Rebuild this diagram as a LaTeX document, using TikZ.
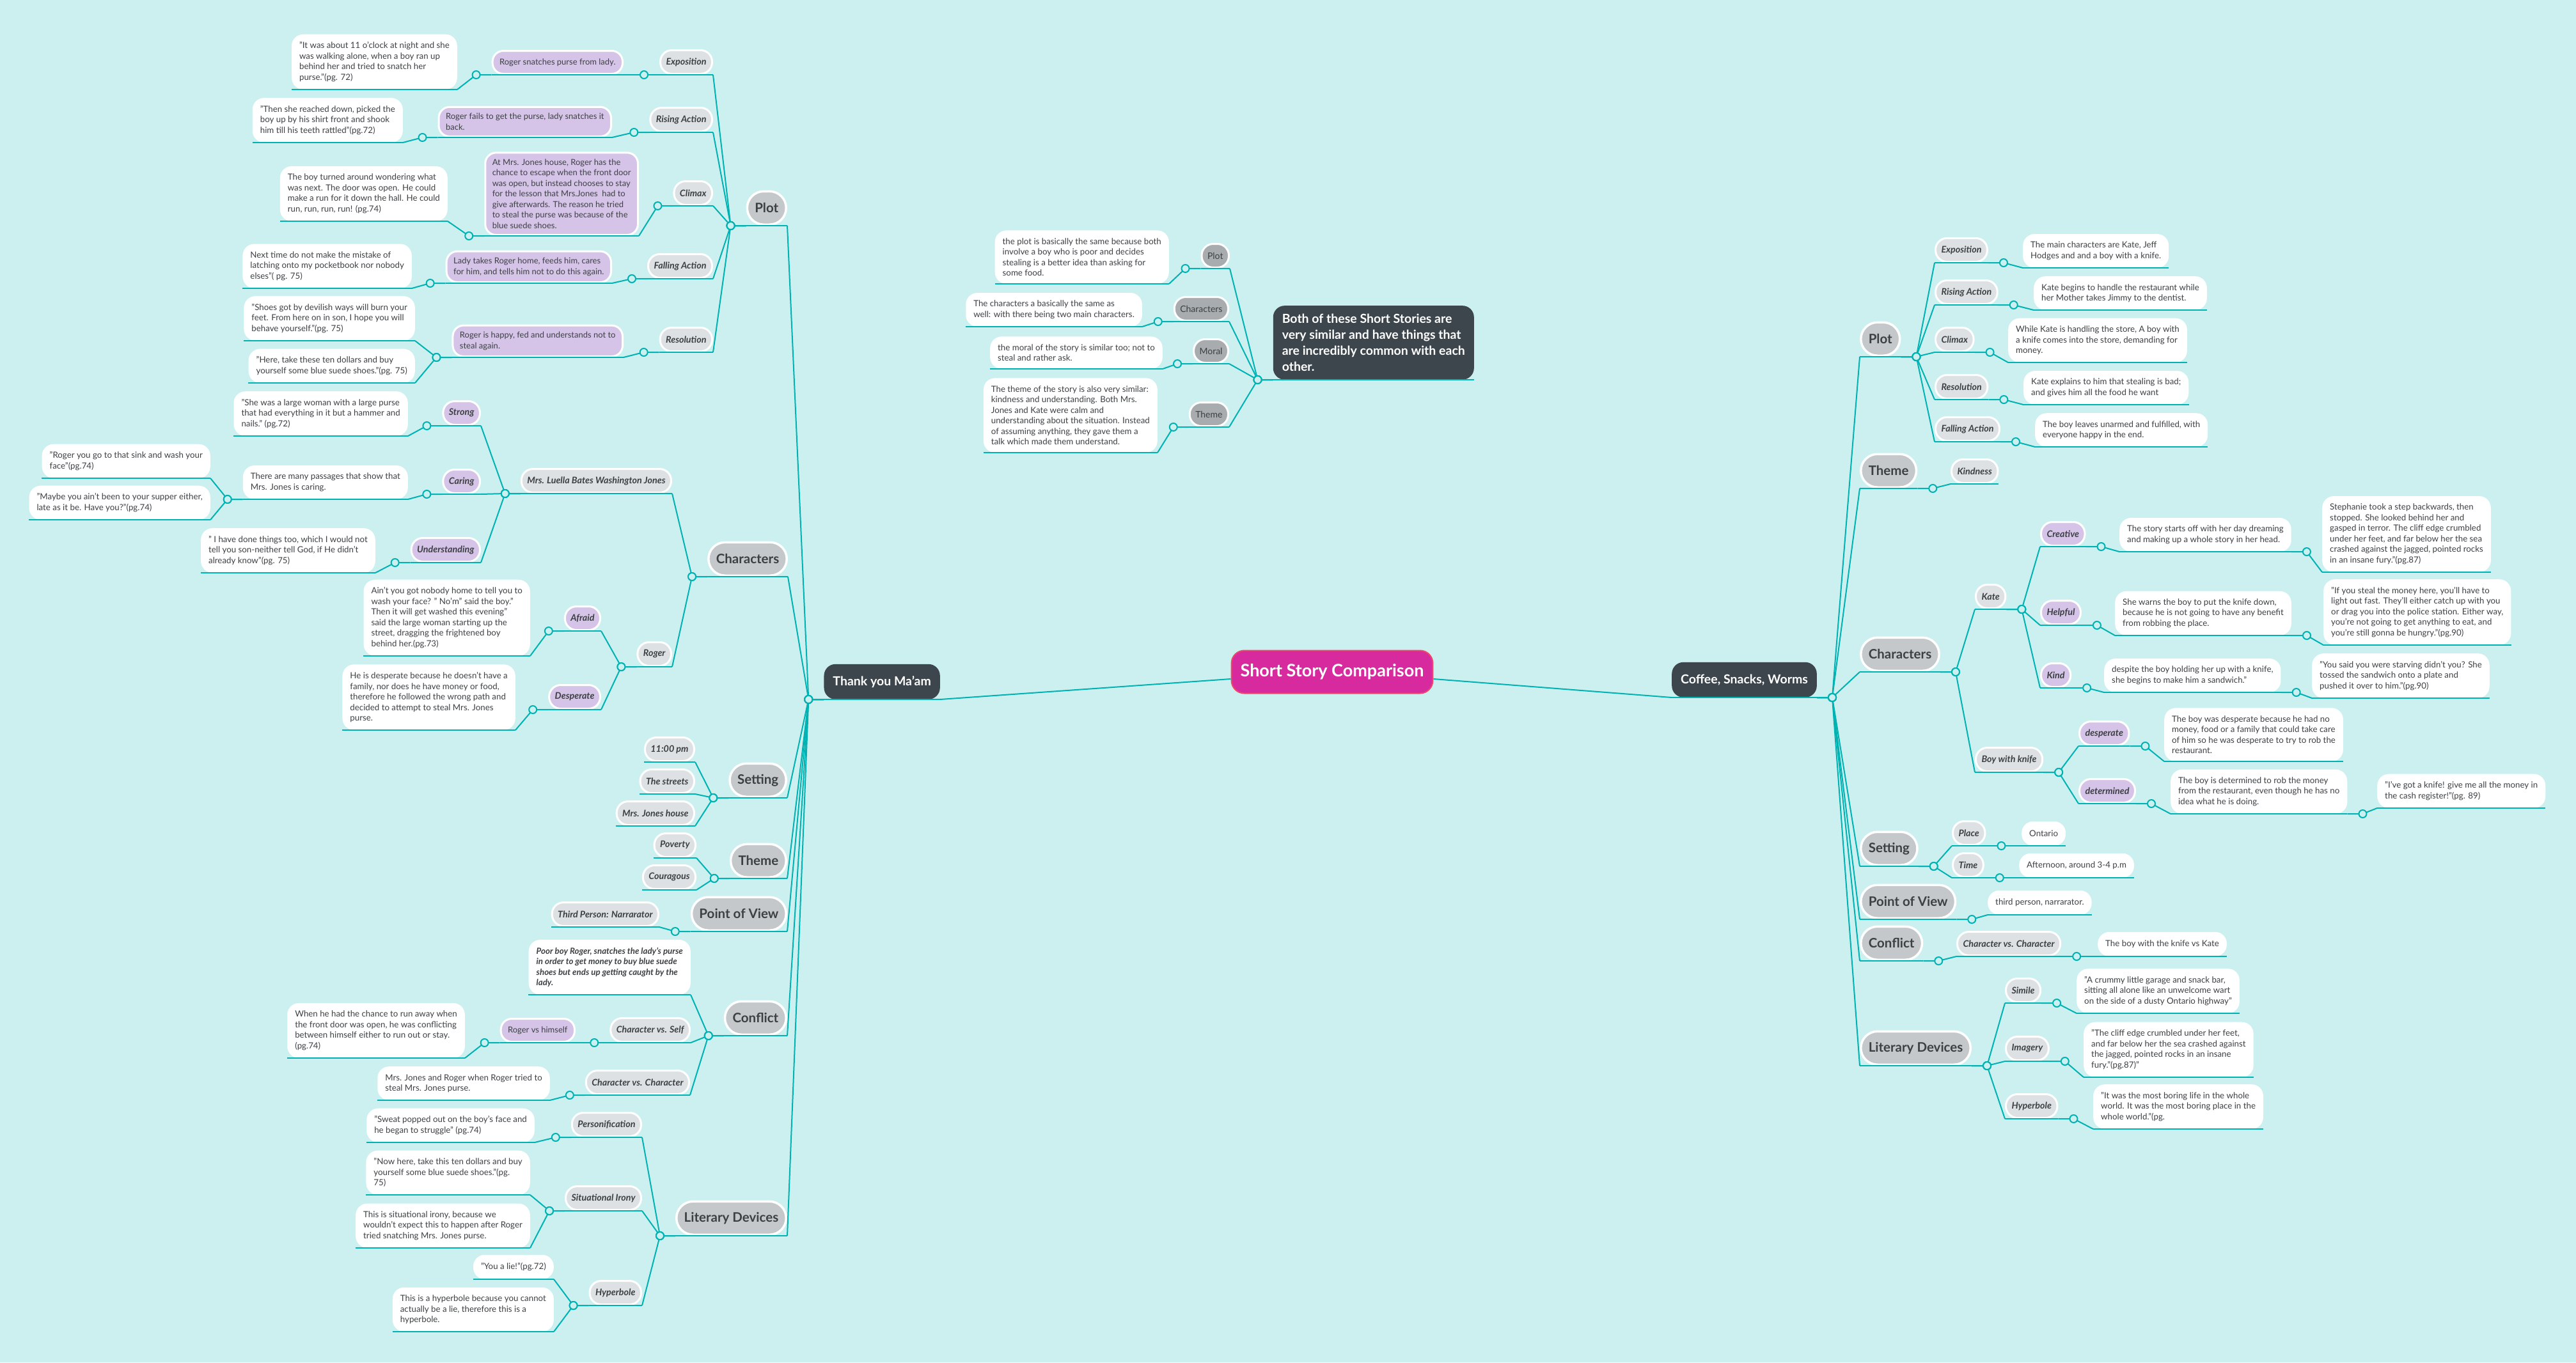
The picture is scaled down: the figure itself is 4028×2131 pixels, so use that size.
\documentclass[tikz,border=0pt]{standalone}
\usepackage{fontspec}
\setmainfont{Lato}
\usetikzlibrary{positioning}
\definecolor{mmbg}{RGB}{204,240,240}
\definecolor{mmteal}{RGB}{0,178,178}
\definecolor{mmmagenta}{RGB}{214,42,158}
\definecolor{mmrose}{RGB}{236,72,110}
\definecolor{mmdark}{RGB}{61,70,77}
\definecolor{mmgray}{RGB}{196,200,202}
\definecolor{mmlight}{RGB}{221,225,228}
\definecolor{mmmidgray}{RGB}{168,172,175}
\definecolor{mmlilac}{RGB}{213,196,232}
\definecolor{mmtext}{RGB}{60,64,67}
\tikzset{
  mmline/.style={draw=mmteal, line width=2pt},
  mmhub/.style={draw=mmteal, line width=2pt, fill=mmbg},
  mmrootbox/.style={fill=mmmagenta, draw=mmrose, line width=2pt, rounded corners=20pt, text=white, font=\fontsize{27}{31}\selectfont\bfseries, inner xsep=14pt, minimum height=67pt},
  mmmain/.style={fill=mmdark, rounded corners=18pt, text=white, font=\fontsize{19.5}{25}\selectfont\bfseries, align=left, inner xsep=14pt, inner ysep=13pt, minimum height=55pt},
  mmtopic/.style={fill=mmgray, draw=white, line width=3.5pt, rounded corners=26pt, text=mmtext, font=\fontsize{20.5}{24}\selectfont\bfseries, minimum height=52pt, inner xsep=12pt},
  mmsub/.style={fill=mmlight, draw=white, line width=3pt, rounded corners=18pt, text=mmtext, font=\fontsize{14.3}{17}\selectfont\bfseries\itshape, minimum height=37pt, inner xsep=9pt},
  mmtag/.style={mmsub, fill=mmlilac},
  mmgrey/.style={mmsub, fill=mmmidgray, font=\fontsize{14}{17}\selectfont},
  mmnote/.style={fill=mmlilac, draw=white, line width=3pt, rounded corners=17pt, text=mmtext, font=\fontsize{13}{16.5}\selectfont, align=left, minimum height=36pt, inner xsep=11pt, inner ysep=10pt},
  mmleaf/.style={fill=white, rounded corners=18pt, text=mmtext, font=\fontsize{13.3}{16.5}\selectfont, align=left, minimum height=38pt, inner xsep=12pt, inner ysep=12pt}
}
\newcommand{\mmL}[5]{\node[#1, anchor=south east] (#2) at (#3,#4) {#5};
  \coordinate (#2-h) at ([xshift=-24pt]#2.south west);
  \draw[mmline] (#2.south west) -- (#2.south east);}
\newcommand{\mmR}[5]{\node[#1, anchor=south west] (#2) at (#3,#4) {#5};
  \coordinate (#2-h) at ([xshift=24pt]#2.south east);
  \draw[mmline] (#2.south west) -- (#2.south east);}
\newcommand{\mmlinkL}[2]{\draw[mmline] (#1.south west) -- (#1-h) -- (#2.south east);
  \draw[mmhub] (#1-h) circle[radius=6pt];}
\newcommand{\mmlinkR}[2]{\draw[mmline] (#1.south east) -- (#1-h) -- (#2.south west);
  \draw[mmhub] (#1-h) circle[radius=6pt];}

\begin{document}
\begin{tikzpicture}[x=1pt, y=-1pt]
  \fill[mmbg] (0,0) rectangle (4028,2131);
  \useasboundingbox (0,0) rectangle (4028,2131);

  \node[mmrootbox] (root) at (2083,1051) {Short Story Comparison};
  \mmL{mmmain}{tym}{1470}{1094}{Thank you Ma'am}
  \mmR{mmmain}{csw}{2614}{1091}{Coffee, Snacks, Worms}
  \draw[mmline] ([yshift=-11pt]root.west) -- (tym.south east);
  \draw[mmline] ([yshift=-11pt]root.east) -- (csw.south west);

  \mmL{mmmain}{both}{2305}{594}{Both of these Short Stories are\\very similar and have things that\\are incredibly common with each\\other.}
  \mmL{mmgrey}{bplot}{1923}{420}{Plot}
  \mmL{mmgrey}{bchar}{1922}{503}{Characters}
  \mmL{mmgrey}{bmoral}{1922}{569}{Moral}
  \mmL{mmgrey}{btheme}{1922}{668}{Theme}
  \mmlinkL{both}{bplot} \mmlinkL{both}{bchar} \mmlinkL{both}{bmoral} \mmlinkL{both}{btheme}
  \mmL{mmleaf}{bplotq}{1828}{444}{the plot is basically the same because both\\involve a boy who is poor and decides\\stealing is a better idea than asking for\\some food.}
  \mmL{mmleaf}{bcharq}{1786}{511}{The characters a basically the same as\\well: with there being two main characters.}
  \mmL{mmleaf}{bmoralq}{1818}{577}{the moral of the story is similar too; not to\\steal and rather ask.}
  \mmL{mmleaf}{bthemeq}{1810}{708}{The theme of the story is also very similar:\\kindness and understanding. Both Mrs.\\Jones and Kate were calm and\\understanding about the situation. Instead\\of assuming anything, they gave them a\\talk which made them understand.}
  \mmlinkL{bplot}{bplotq} \mmlinkL{bchar}{bcharq} \mmlinkL{bmoral}{bmoralq} \mmlinkL{btheme}{bthemeq}

  \mmL{mmtopic}{plot}{1231}{353}{Plot}
  \mmL{mmtopic}{chars}{1232}{902}{Characters}
  \mmL{mmtopic}{set}{1231}{1248}{Setting}
  \mmL{mmtopic}{theme}{1231}{1374}{Theme}
  \mmL{mmtopic}{pov}{1231}{1457}{Point of View}
  \mmL{mmtopic}{conf}{1231}{1620}{Conflict}
  \mmL{mmtopic}{lit}{1231}{1933}{Literary Devices}
  \mmlinkL{tym}{plot} \mmlinkL{tym}{chars} \mmlinkL{tym}{set} \mmlinkL{tym}{theme}
  \mmlinkL{tym}{pov} \mmlinkL{tym}{conf} \mmlinkL{tym}{lit}

  \mmL{mmsub}{exp}{1115}{117}{Exposition}
  \mmL{mmsub}{rise}{1115}{207}{Rising Action}
  \mmL{mmsub}{clim}{1115}{322}{Climax}
  \mmL{mmsub}{fall}{1115}{436}{Falling Action}
  \mmL{mmsub}{res}{1115}{551}{Resolution}
  \mmlinkL{plot}{exp} \mmlinkL{plot}{rise} \mmlinkL{plot}{clim} \mmlinkL{plot}{fall} \mmlinkL{plot}{res}
  \mmL{mmnote}{expn}{975}{117}{Roger snatches purse from lady.}
  \mmL{mmnote}{risen}{957}{215}{Roger fails to get the purse, lady snatches it\\back.}
  \mmL{mmnote}{climn}{999}{369}{At Mrs. Jones house, Roger has the\\chance to escape when the front door\\was open, but instead chooses to stay\\for the lesson that Mrs.Jones\ \ had to\\give afterwards. The reason he tried\\to steal the purse was because of the\\blue suede shoes.}
  \mmL{mmnote}{falln}{957}{443}{Lady takes Roger home, feeds him, cares\\for him, and tells him not to do this again.}
  \mmL{mmnote}{resn}{975}{559}{Roger is happy, fed and understands not to\\steal again.}
  \mmlinkL{exp}{expn} \mmlinkL{rise}{risen} \mmlinkL{clim}{climn} \mmlinkL{fall}{falln} \mmlinkL{res}{resn}
  \mmL{mmleaf}{expq}{715}{140}{"It was about 11 o'clock at night and she\\was walking alone, when a boy ran up\\behind her and tried to snatch her\\purse."(pg. 72)}
  \mmL{mmleaf}{riseq}{630}{223}{"Then she reached down, picked the\\boy up by his shirt front and shook\\him till his teeth rattled"(pg.72)}
  \mmL{mmleaf}{climq}{700}{346}{The boy turned around wondering what\\was next. The door was open. He could\\make a run for it down the hall. He could\\run, run, run, run! (pg.74)}
  \mmL{mmleaf}{fallq}{644}{451}{Next time do not make the mistake of\\latching onto my pocketbook nor nobody\\elses"( pg. 75)}
  \mmL{mmleaf}{resqa}{649}{533}{"Shoes got by devilish ways will burn your\\feet. From here on in son, I hope you will\\behave yourself."(pg. 75)}
  \mmL{mmleaf}{resqb}{649}{599}{"Here, take these ten dollars and buy\\yourself some blue suede shoes."(pg. 75)}
  \mmlinkL{expn}{expq} \mmlinkL{risen}{riseq} \mmlinkL{climn}{climq} \mmlinkL{falln}{fallq}
  \mmlinkL{resn}{resqa} \mmlinkL{resn}{resqb}

  \mmL{mmsub}{mrsj}{1051}{772}{Mrs. Luella Bates Washington Jones}
  \mmL{mmsub}{roger}{1051}{1043}{Roger}
  \mmlinkL{chars}{mrsj} \mmlinkL{chars}{roger}
  \mmL{mmtag}{strong}{752}{666}{Strong}
  \mmL{mmtag}{caring}{752}{773}{Caring}
  \mmL{mmtag}{underst}{752}{880}{Understanding}
  \mmlinkL{mrsj}{strong} \mmlinkL{mrsj}{caring} \mmlinkL{mrsj}{underst}
  \mmL{mmleaf}{strongq}{638}{682}{"She was a large woman with a large purse\\that had everything in it but a hammer and\\nails." (pg.72)}
  \mmL{mmleaf}{caringq}{638}{781}{There are many passages that show that\\Mrs. Jones is caring.}
  \mmL{mmleaf}{understq}{587}{896}{" I have done things too, which I would not\\tell you son-neither tell God, if He didn't\\already know"(pg. 75)}
  \mmlinkL{strong}{strongq} \mmlinkL{caring}{caringq} \mmlinkL{underst}{understq}
  \mmL{mmleaf}{caringqa}{329}{748}{"Roger you go to that sink and wash your\\face"(pg.74)}
  \mmL{mmleaf}{caringqb}{329}{813}{"Maybe you ain't been to your supper either,\\late as it be. Have you?"(pg.74)}
  \mmlinkL{caringq}{caringqa} \mmlinkL{caringq}{caringqb}
  \mmL{mmtag}{afraid}{940}{987}{Afraid}
  \mmL{mmtag}{desp}{940}{1110}{Desperate}
  \mmlinkL{roger}{afraid} \mmlinkL{roger}{desp}
  \mmL{mmleaf}{afraidq}{829}{1026}{Ain't you got nobody home to tell you to\\wash your face? " No'm" said the boy."\\Then it will get washed this evening"\\said the large woman starting up the\\street, dragging the frightened boy\\behind her.(pg.73)}
  \mmL{mmleaf}{despq}{806}{1142}{He is desperate because he doesn't have a\\family, nor does he have money or food,\\therefore he followed the wrong path and\\decided to attempt to steal Mrs. Jones\\purse.}
  \mmlinkL{afraid}{afraidq} \mmlinkL{desp}{despq}

  \mmL{mmsub}{seta}{1087}{1192}{11:00 pm}
  \mmL{mmsub}{setb}{1087}{1242}{The streets}
  \mmL{mmsub}{setc}{1087}{1292}{Mrs. Jones house}
  \mmlinkL{set}{seta} \mmlinkL{set}{setb} \mmlinkL{set}{setc}
  \mmL{mmsub}{themea}{1089}{1342}{Poverty}
  \mmL{mmsub}{themeb}{1089}{1392}{Couragous}
  \mmlinkL{theme}{themea} \mmlinkL{theme}{themeb}
  \mmL{mmsub}{pova}{1031}{1450}{Third Person: Narrarator}
  \mmlinkL{pov}{pova}

  \mmL{mmleaf, font=\fontsize{13.3}{16.5}\selectfont\bfseries\itshape}{confq}{1080}{1556}{Poor boy Roger, snatches the lady's purse\\in order to get money to buy blue suede\\shoes but ends up getting caught by the\\lady.}
  \mmL{mmsub}{cself}{1080}{1631}{Character vs. Self}
  \mmL{mmsub}{cchar}{1079}{1713}{Character vs. Character}
  \mmlinkL{conf}{confq} \mmlinkL{conf}{cself} \mmlinkL{conf}{cchar}
  \mmL{mmnote}{cselfn}{900}{1631}{Roger vs himself}
  \mmlinkL{cself}{cselfn}
  \mmL{mmleaf}{cselfq}{727}{1655}{When he had the chance to run away when\\the front door was open, he was conflicting\\between himself either to run out or stay.\\(pg.74)}
  \mmlinkL{cselfn}{cselfq}
  \mmL{mmleaf}{ccharq}{860}{1721}{Mrs. Jones and Roger when Roger tried to\\steal Mrs. Jones purse.}
  \mmlinkL{cchar}{ccharq}

  \mmL{mmsub}{pers}{1004}{1779}{Personification}
  \mmL{mmsub}{irony}{1004}{1894}{Situational Irony}
  \mmL{mmsub}{hyp}{1004}{2042}{Hyperbole}
  \mmlinkL{lit}{pers} \mmlinkL{lit}{irony} \mmlinkL{lit}{hyp}
  \mmL{mmleaf}{persq}{836}{1787}{"Sweat popped out on the boy's face and\\he began to struggle" (pg.74)}
  \mmL{mmleaf}{ironyqa}{829}{1869}{"Now here, take this ten dollars and buy\\yourself some blue suede shoes."(pg.\\75)}
  \mmL{mmleaf}{ironyqb}{829}{1952}{This is situational irony, because we\\wouldn't expect this to happen after Roger\\tried snatching Mrs. Jones purse.}
  \mmL{mmleaf}{hypqa}{866}{2001}{"You a lie!"(pg.72)}
  \mmL{mmleaf}{hypqb}{866}{2083}{This is a hyperbole because you cannot\\actually be a lie, therefore this is a\\hyperbole.}
  \mmlinkL{pers}{persq} \mmlinkL{irony}{ironyqa} \mmlinkL{irony}{ironyqb} \mmlinkL{hyp}{hypqa} \mmlinkL{hyp}{hypqb}

  \mmR{mmtopic}{rplot}{2908}{558}{Plot}
  \mmR{mmtopic}{rtheme}{2908}{764}{Theme}
  \mmR{mmtopic}{rchar}{2908}{1051}{Characters}
  \mmR{mmtopic}{rset}{2908}{1355}{Setting}
  \mmR{mmtopic}{rpov}{2908}{1438}{Point of View}
  \mmR{mmtopic}{rconf}{2908}{1503}{Conflict}
  \mmR{mmtopic}{rlit}{2908}{1667}{Literary Devices}
  \mmlinkR{csw}{rplot} \mmlinkR{csw}{rtheme} \mmlinkR{csw}{rchar} \mmlinkR{csw}{rset}
  \mmlinkR{csw}{rpov} \mmlinkR{csw}{rconf} \mmlinkR{csw}{rlit}

  \mmR{mmsub}{rexp}{3025}{411}{Exposition}
  \mmR{mmsub}{rrise}{3025}{477}{Rising Action}
  \mmR{mmsub}{rclim}{3025}{551}{Climax}
  \mmR{mmsub}{rres}{3025}{625}{Resolution}
  \mmR{mmsub}{rfall}{3025}{691}{Falling Action}
  \mmlinkR{rplot}{rexp} \mmlinkR{rplot}{rrise} \mmlinkR{rplot}{rclim} \mmlinkR{rplot}{rres} \mmlinkR{rplot}{rfall}
  \mmR{mmleaf}{rexpq}{3163}{419}{The main characters are Kate, Jeff\\Hodges and and a boy with a knife.}
  \mmR{mmleaf}{rriseq}{3180}{485}{Kate begins to handle the restaurant while\\her Mother takes Jimmy to the dentist.}
  \mmR{mmleaf}{rclimq}{3140}{567}{While Kate is handling the store, A boy with\\a knife comes into the store, demanding for\\money.}
  \mmR{mmleaf}{rresq}{3164}{633}{Kate explains to him that stealing is bad;\\and gives him all the food he want}
  \mmR{mmleaf}{rfallq}{3182}{699}{The boy leaves unarmed and fulfilled, with\\everyone happy in the end.}
  \mmlinkR{rexp}{rexpq} \mmlinkR{rrise}{rriseq} \mmlinkR{rclim}{rclimq} \mmlinkR{rres}{rresq} \mmlinkR{rfall}{rfallq}
  \mmR{mmsub}{rkind}{3050}{757}{Kindness}
  \mmlinkR{rtheme}{rkind}

  \mmR{mmsub}{kate}{3088}{953}{Kate}
  \mmR{mmsub}{boyk}{3088}{1208}{Boy with knife}
  \mmlinkR{rchar}{kate} \mmlinkR{rchar}{boyk}
  \mmR{mmtag}{creat}{3190}{855}{Creative}
  \mmR{mmtag}{help}{3190}{978}{Helpful}
  \mmR{mmtag}{kind}{3190}{1076}{Kind}
  \mmlinkR{kate}{creat} \mmlinkR{kate}{help} \mmlinkR{kate}{kind}
  \mmR{mmleaf}{creatn}{3314}{863}{The story starts off with her day dreaming\\and making up a whole story in her head.}
  \mmR{mmleaf}{helpn}{3307}{994}{She warns the boy to put the knife down,\\because he is not going to have any benefit\\from robbing the place.}
  \mmR{mmleaf}{kindn}{3290}{1083}{despite the boy holding her up with a knife,\\she begins to make him a sandwich."}
  \mmlinkR{creat}{creatn} \mmlinkR{help}{helpn} \mmlinkR{kind}{kindn}
  \mmR{mmleaf}{creatq}{3631}{895}{Stephanie took a step backwards, then\\stopped. She looked behind her and\\gasped in terror. The cliff edge crumbled\\under her feet, and far below her the sea\\crashed against the jagged, pointed rocks\\in an insane fury."(pg.87)}
  \mmR{mmleaf}{helpq}{3633}{1009}{"If you steal the money here, you'll have to\\light out fast. They'll either catch up with you\\or drag you into the police station. Either way,\\you're not going to get anything to eat, and\\you're still gonna be hungry."(pg.90)}
  \mmR{mmleaf}{kindq}{3615}{1092}{"You said you were starving didn't you? She\\tossed the sandwich onto a plate and\\pushed it over to him."(pg.90)}
  \mmlinkR{creatn}{creatq} \mmlinkR{helpn}{helpq} \mmlinkR{kindn}{kindq}
  \mmR{mmtag}{rdesp}{3250}{1167}{desperate}
  \mmR{mmtag}{rdet}{3250}{1257}{determined}
  \mmlinkR{boyk}{rdesp} \mmlinkR{boyk}{rdet}
  \mmR{mmleaf}{rdespn}{3384}{1191}{The boy was desperate because he had no\\money, food or a family that could take care\\of him so he was desperate to try to rob the\\restaurant.}
  \mmR{mmleaf}{rdetn}{3394}{1273}{The boy is determined to rob the money\\from the restaurant, even though he has no\\idea what he is doing.}
  \mmlinkR{rdesp}{rdespn} \mmlinkR{rdet}{rdetn}
  \mmR{mmleaf}{rdetq}{3717}{1264}{"I've got a knife! give me all the money in\\the cash register!"(pg. 89)}
  \mmlinkR{rdetn}{rdetq}

  \mmR{mmsub}{place}{3052}{1323}{Place}
  \mmR{mmsub}{time}{3052}{1373}{Time}
  \mmlinkR{rset}{place} \mmlinkR{rset}{time}
  \mmR{mmleaf}{placeq}{3161}{1323}{Ontario}
  \mmR{mmleaf}{timeq}{3157}{1373}{Afternoon, around 3-4 p.m}
  \mmlinkR{place}{placeq} \mmlinkR{time}{timeq}
  \mmR{mmleaf}{rpovq}{3108}{1431}{third person, narrarator.}
  \mmlinkR{rpov}{rpovq}
  \mmR{mmsub}{rcvc}{3059}{1496}{Character vs. Character}
  \mmlinkR{rconf}{rcvc}
  \mmR{mmleaf}{rcvcq}{3280}{1496}{The boy with the knife vs Kate}
  \mmlinkR{rcvc}{rcvcq}

  \mmR{mmsub}{simile}{3135}{1569}{Simile}
  \mmR{mmsub}{imag}{3135}{1660}{Imagery}
  \mmR{mmsub}{rhyp}{3135}{1750}{Hyperbole}
  \mmlinkR{rlit}{simile} \mmlinkR{rlit}{imag} \mmlinkR{rlit}{rhyp}
  \mmR{mmleaf}{simileq}{3247}{1585}{"A crummy little garage and snack bar,\\sitting all alone like an unwelcome wart\\on the side of a dusty Ontario highway"}
  \mmR{mmleaf}{imagq}{3258}{1685}{"The cliff edge crumbled under her feet,\\and far below her the sea crashed against\\the jagged, pointed rocks in an insane\\fury."(pg.87)"}
  \mmR{mmleaf}{rhypq}{3273}{1766}{"It was the most boring life in the whole\\world. It was the most boring place in the\\whole world."(pg.}
  \mmlinkR{simile}{simileq} \mmlinkR{imag}{imagq} \mmlinkR{rhyp}{rhypq}
\end{tikzpicture}
\end{document}
